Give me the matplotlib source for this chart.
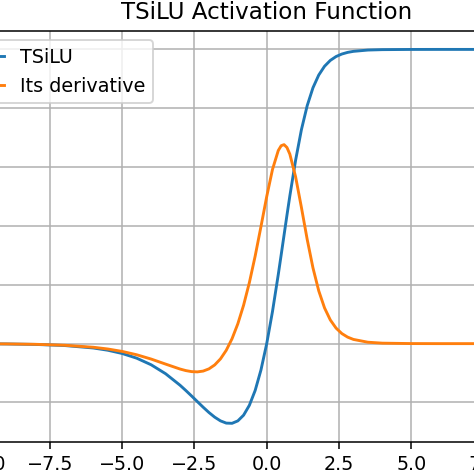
import matplotlib
matplotlib.use("Agg")
import matplotlib.pyplot as plt

# values
x = [-10, -9, -8, -7, -6, -5.5, -5, -4.5, -4, -3.5,
     -3.0, -2.8, -2.6, -2.4, -2.2, -2.0, -1.8, -1.6, -1.4, -1.2,
     -1.0, -0.8, -0.6, -0.4, -0.2, 0.0, 0.2, 0.4, 0.5, 0.6,
     0.7, 0.8, 1.0, 1.2, 1.4, 1.6, 1.8, 2.0, 2.2, 2.4,
     2.6, 2.8, 3.0, 3.5, 4, 5, 6, 7, 8, 9, 10]

tsilu = [-0.0005, -0.0011, -0.0027, -0.0064, -0.0148, -0.0224, -0.0335, -0.0494, -0.0718, -0.1022,
         -0.1413, -0.1592, -0.1779, -0.1970, -0.2160, -0.2340, -0.2499, -0.2625, -0.2701, -0.2708,
         -0.2626, -0.2431, -0.2095, -0.1592, -0.0898, 0.0, 0.1095, 0.2350, 0.3016, 0.3691,
         0.4364, 0.5020, 0.6237, 0.7270, 0.8086, 0.8696, 0.9129, 0.9427, 0.9626, 0.9758,
         0.9843, 0.9899, 0.9934, 0.9978, 0.9992, 0.9999, 1.0, 1.0, 1.0, 1.0, 1.0]

deriv = [-0.0004, -0.0010, -0.0023, -0.0055, -0.0123, -0.0182, -0.0265, -0.0378, -0.0524, -0.0695,
         -0.0863, -0.0916, -0.0951, -0.0960, -0.0933, -0.0858, -0.0724, -0.0518, -0.0226, 0.0167,
         0.0673, 0.1307, 0.2076, 0.2975, 0.3974, 0.5000, 0.5922, 0.6564, 0.6727, 0.6763,
         0.6666, 0.6441, 0.5668, 0.4631, 0.3545, 0.2575, 0.1795, 0.1215, 0.0805, 0.0527,
         0.0342, 0.0221, 0.0143, 0.0048, 0.0016, 0.0002, 0.0, 0.0, 0.0, 0.0, 0.0]

fig = plt.figure(figsize=(474/138, 474/138), dpi=138)
# the reference is a crop, so the axes run past the figure edges
ax = fig.add_axes([-0.108, 0.0675, 1.3414, 0.8677])

ax.plot(x, tsilu, label='TSiLU')
ax.plot(x, deriv, label='Its derivative')
ax.set_title('TSiLU Activation Function')
ax.grid(True)
ax.legend(loc='upper left')

fig.savefig('out.png', dpi=138)
